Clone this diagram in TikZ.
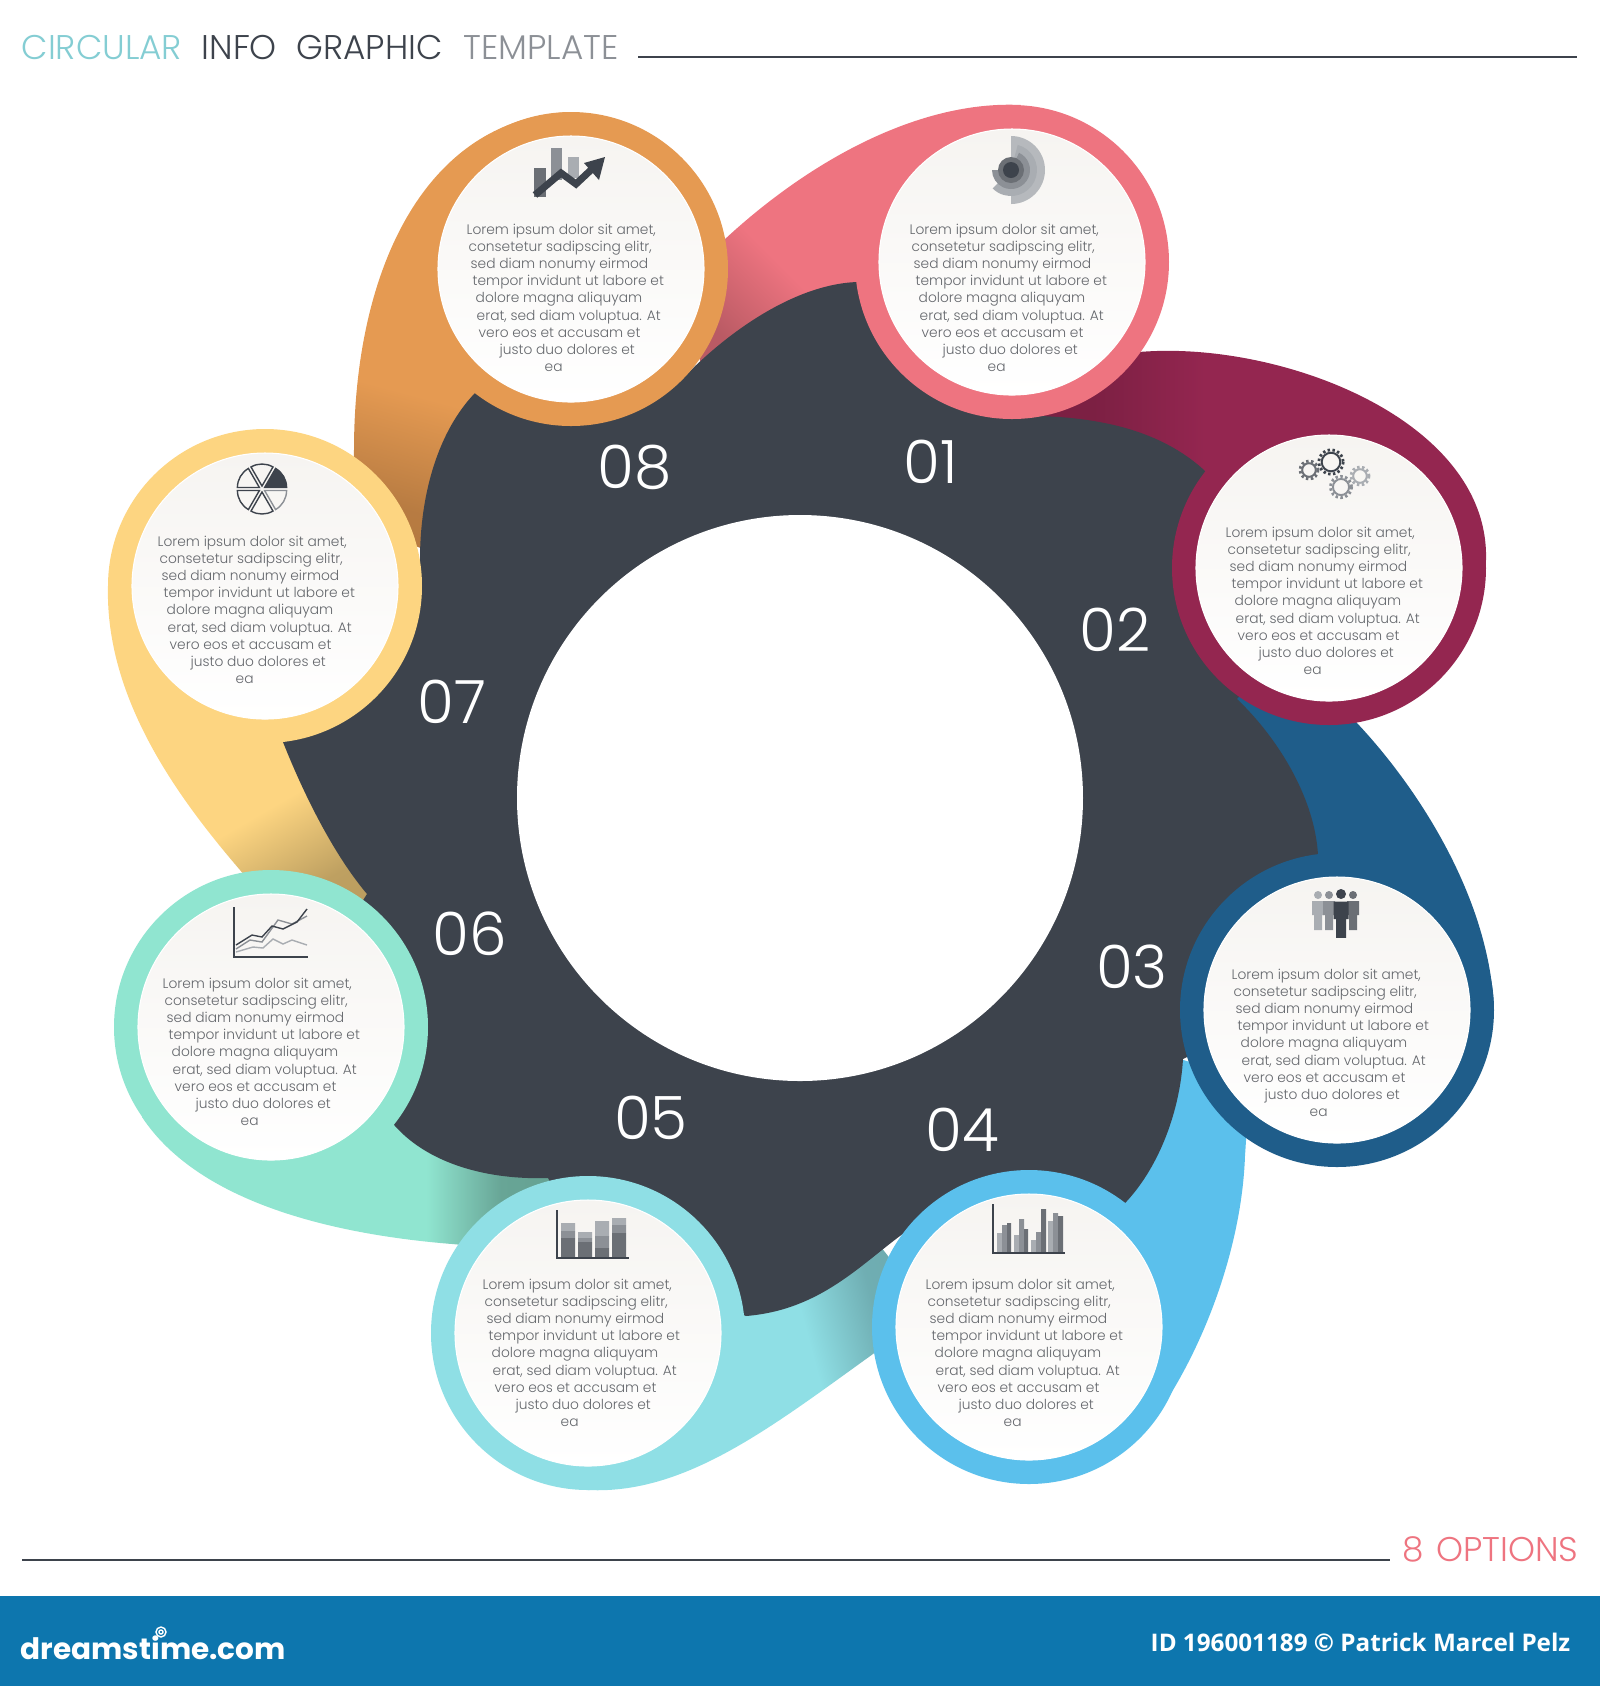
\documentclass[tikz,border=0pt]{standalone}
\usepackage{fontspec}
\setmainfont{Poppins}
\newfontfamily\lightfont{Poppins Light}
\newfontfamily\stockfont{Open Sans}
\definecolor{slate}{RGB}{61, 67, 76}
\definecolor{pinkrose}{RGB}{238, 116, 128}
\definecolor{wine}{RGB}{148, 38, 80}
\definecolor{navyblue}{RGB}{31, 93, 138}
\definecolor{skyblue}{RGB}{91, 192, 236}
\definecolor{aquablue}{RGB}{143, 223, 229}
\definecolor{mintgreen}{RGB}{144, 229, 208}
\definecolor{sandyellow}{RGB}{253, 213, 129}
\definecolor{ochre}{RGB}{229, 154, 82}
\definecolor{bandblue}{RGB}{13, 118, 174}
\definecolor{iconlight}{RGB}{169, 173, 178}
\definecolor{iconmid}{RGB}{140, 144, 150}
\definecolor{icondark}{RGB}{107, 111, 117}
\definecolor{textgray}{RGB}{100, 103, 108}
\definecolor{paper}{RGB}{246, 244, 241}
\usepackage{tikz}
\usetikzlibrary{positioning}

\pgfdeclareverticalshading{tailpink}{100bp}{color(0bp)=(pinkrose!78!black); color(28bp)=(pinkrose!78!black); color(42bp)=(pinkrose); color(100bp)=(pinkrose)}
\pgfdeclareverticalshading{tailochre}{100bp}{color(0bp)=(ochre!75!black); color(27bp)=(ochre!80!black); color(41bp)=(ochre); color(100bp)=(ochre)}
\pgfdeclareverticalshading{tailsand}{100bp}{color(0bp)=(sandyellow!70!black); color(28bp)=(sandyellow!75!black); color(42bp)=(sandyellow); color(100bp)=(sandyellow)}
\pgfdeclareverticalshading{tailmint}{100bp}{color(0bp)=(mintgreen!65!black); color(32bp)=(mintgreen!72!black); color(41bp)=(mintgreen); color(100bp)=(mintgreen)}
\pgfdeclareverticalshading{tailaqua}{100bp}{color(0bp)=(aquablue!70!black); color(31bp)=(aquablue!78!black); color(42bp)=(aquablue); color(100bp)=(aquablue)}
\pgfdeclareverticalshading{tailwine}{100bp}{color(0bp)=(wine!80!black); color(32bp)=(wine!84!black); color(44bp)=(wine); color(100bp)=(wine)}

\tikzset{
  ringnode/.style={circle, minimum size=3.14cm, inner sep=0pt},
  facenode/.style={circle, minimum size=2.66cm, inner sep=0pt, top color=paper, bottom color=white, draw=white, line width=0.3pt},
  loremnode/.style={anchor=north west, inner sep=0pt, align=left, text=textgray, font=\lightfont\fontsize{3.92}{4.9}\selectfont},
  numnode/.style={text=white, inner sep=0pt, font=\lightfont\fontsize{17}{17}\selectfont},
  headnode/.style={anchor=west, inner sep=0pt, font=\lightfont\fontsize{9.75}{10}\selectfont},
  rule/.style={slate, line width=0.6pt}
}

\newcommand{\loremtext}{Lorem ipsum dolor sit amet,\\
  \hspace*{.2mm}consetetur sadipscing elitr,\\
  \hspace*{.4mm}sed diam nonumy eirmod\\
  \hspace*{.6mm}tempor invidunt ut labore et\\
  \hspace*{.9mm}dolore magna aliquyam\\
  \hspace*{1mm}erat, sed diam voluptua. At\\
  \hspace*{1.2mm}vero eos et accusam et\\
  \hspace*{3.3mm}justo duo dolores et\\
  \hspace*{7.8mm}ea}
\newcommand{\piewedge}[4]{\draw[line width=0.4pt, #4] (262,489) ++(#3:3) -- ++(#1:22) arc[start angle=#1, end angle=#2, radius=22] -- cycle;}
\newcommand{\gearicon}[4]{
  \draw[#4, line width=0.55pt] (#1,#2) circle[radius=0.62*#3];
  \draw[#4, line width=0.8pt, dash pattern=on 0.7pt off 0.7pt] (#1,#2) circle[radius=0.82*#3];
}
\newcommand{\personicon}[4]{
  \begin{scope}[shift={(#1,#2)}, x=#3*0.1mm, y=-#3*0.1mm]
    \fill[#4] (0,0) circle[radius=4];
    \fill[#4] (-6,6) -- (6,6) -- (6,20) -- (4,20) -- (4,35) -- (-4,35) -- (-4,20) -- (-6,20) -- cycle;
  \end{scope}
}

\begin{document}
\begin{tikzpicture}[x=0.1mm, y=-0.1mm]
  \useasboundingbox (0,0) rectangle (1600,1686);

  % Tails, under everything else
  \shade[shading=tailpink, shading angle=-45] (1021,105) .. controls (920,100) and (810,160) .. (724,240) -- (680,300) -- (720,420) -- (900,300) -- cycle;
  \shade[shading=tailochre, shading angle=-15] (571,112) .. controls (425,118) and (354,270) .. (354,450) -- (352,520) -- (450,560) -- (600,300) -- cycle;
  \shade[shading=tailsand, shading angle=30] (108,586) .. controls (105,700) and (180,800) .. (240,870) -- (290,930) -- (400,900) -- (400,800) -- (300,700) -- cycle;
  \shade[shading=tailmint, shading angle=90] (142,1117) .. controls (200,1205) and (340,1235) .. (452,1244) -- (520,1250) -- (560,1180) -- (380,1080) -- cycle;
  \shade[shading=tailaqua, shading angle=105] (588,1490) .. controls (690,1495) and (780,1420) .. (887,1344) -- (930,1310) -- (860,1220) -- (700,1250) -- (600,1300) -- cycle;
  \fill[skyblue] (1170,1395) .. controls (1210,1330) and (1242,1240) .. (1245,1156) -- (1250,1080) -- (1150,1050) -- (1040,1250) -- cycle;
  \fill[navyblue] (1494,1010) .. controls (1490,900) and (1420,790) .. (1357,723) -- (1340,700) -- (1220,660) -- (1200,720) -- (1250,850) -- (1330,950) -- cycle;
  \shade[shading=tailwine, shading angle=270] (1090,345) -- (1139,352) .. controls (1280,340) and (1490,420) .. (1486,560) -- (1300,560) -- (1100,470) -- (1030,405) -- cycle;

  % Gear
  \fill[slate] (857,282) .. controls (800,284) and (735,325) .. (684,377) -- (571,300)
    -- (474,394) .. controls (440,430) and (420,490) .. (420,560) -- (300,600)
    -- (283,742) .. controls (300,785) and (330,850) .. (367,894) -- (300,1000)
    -- (395,1126) .. controls (430,1165) and (490,1180) .. (548,1178) -- (588,1250)
    -- (746,1316) .. controls (820,1310) and (860,1265) .. (904,1233) -- (1029,1300)
    -- (1127,1201) .. controls (1160,1165) and (1180,1110) .. (1183,1059) -- (1300,1000)
    -- (1318,855) .. controls (1315,800) and (1280,740) .. (1237,699) -- (1320,600)
    -- (1204,470) .. controls (1160,430) and (1100,418) .. (1040,416) -- (1012,300) -- cycle;
  \node[circle, fill=white, minimum size=5.66cm, inner sep=0pt] (hole) at (800,798) {};

  % Rings
  \node[ringnode, fill=pinkrose] (ring1) at (1012,262) {};
  \node[ringnode, fill=wine] (ring2) at (1329,568) {};
  \node[ringnode, fill=navyblue] (ring3) at (1337,1010) {};
  \node[ringnode, fill=skyblue] (ring4) at (1029,1327) {};
  \node[ringnode, fill=aquablue] (ring5) at (588,1333) {};
  \node[ringnode, fill=mintgreen] (ring6) at (271,1027) {};
  \node[ringnode, fill=sandyellow] (ring7) at (265,586) {};
  \node[ringnode, fill=ochre] (ring8) at (571,269) {};

  % Faces
  \node[facenode] (face1) at (ring1) {};
  \node[facenode] (face2) at (ring2) {};
  \node[facenode] (face3) at (ring3) {};
  \node[facenode] (face4) at (ring4) {};
  \node[facenode] (face5) at (ring5) {};
  \node[facenode] (face6) at (ring6) {};
  \node[facenode] (face7) at (ring7) {};
  \node[facenode] (face8) at (ring8) {};

  % Texts
  \node[loremnode] (text1) at (909,223) {\loremtext};
  \node[loremnode] (text2) at (1225,526) {\loremtext};
  \node[loremnode] (text3) at (1231,968) {\loremtext};
  \node[loremnode] (text4) at (925,1278) {\loremtext};
  \node[loremnode] (text5) at (482,1278) {\loremtext};
  \node[loremnode] (text6) at (162,977) {\loremtext};
  \node[loremnode] (text7) at (157,535) {\loremtext};
  \node[loremnode] (text8) at (466,223) {\loremtext};

  % Numbers
  \node[numnode] (num1) at (931,462) {01};
  \node[numnode] (num2) at (1115,630) {02};
  \node[numnode] (num3) at (1132,967) {03};
  \node[numnode] (num4) at (962,1130) {04};
  \node[numnode] (num5) at (651,1118) {05};
  \node[numnode] (num6) at (470,934) {06};
  \node[numnode] (num7) at (452,702) {07};
  \node[numnode] (num8) at (635,467) {08};

  % Icon 01, half disc
  \fill[iconlight!85!white] (1011,170) -- ++(-90:34) arc[start angle=-90, end angle=90, radius=34] -- cycle;
  \fill[iconlight] (1011,170) -- ++(-75:26) arc[start angle=-75, end angle=135, radius=26] -- cycle;
  \fill[iconmid] (1011,170) -- ++(-65:19) arc[start angle=-65, end angle=180, radius=19] -- cycle;
  \fill[icondark] (1011,170) circle[radius=13];
  \fill[slate] (1011,170) circle[radius=8];

  % Icon 02, gears
  \gearicon{1309}{470}{11}{icondark}
  \gearicon{1360}{476}{11}{iconlight}
  \gearicon{1341}{487}{13}{iconmid}
  \gearicon{1331}{462}{15}{slate}

  % Icon 03, people
  \personicon{1318}{895}{1}{iconlight}
  \personicon{1329}{895}{1}{iconmid}
  \personicon{1353}{895}{1}{icondark}
  \personicon{1341}{894}{1.25}{slate}

  % Icon 04, bars
  \fill[iconlight] (997,1233) rectangle (1002,1252) (1014,1235) rectangle (1019,1252) (1031,1240) rectangle (1036,1252) (1048,1221) rectangle (1053,1252);
  \fill[iconmid] (1002,1225) rectangle (1007,1252) (1019,1219) rectangle (1024,1252) (1036,1232) rectangle (1041,1252) (1053,1213) rectangle (1058,1252);
  \fill[icondark] (1007,1223) rectangle (1011,1252) (1024,1229) rectangle (1028,1252) (1041,1209) rectangle (1046,1252) (1058,1216) rectangle (1063,1252);
  \draw[slate, line width=0.5pt] (993,1204) -- (993,1253) -- (1065,1253);

  % Icon 05, stacked bars
  \fill[iconlight] (561,1223) rectangle (575,1231) (578,1232) rectangle (592,1238) (595,1221) rectangle (609,1236) (612,1218) rectangle (626,1225);
  \fill[iconmid] (561,1231) rectangle (575,1238) (578,1238) rectangle (592,1242) (595,1236) rectangle (609,1248) (612,1225) rectangle (626,1233);
  \fill[icondark] (561,1238) rectangle (575,1257) (578,1242) rectangle (592,1257) (595,1248) rectangle (609,1257) (612,1233) rectangle (626,1257);
  \draw[slate, line width=0.6pt] (557,1210) -- (557,1258) -- (629,1258);

  % Icon 06, line chart
  \draw[iconlight, line width=0.4pt] (236,952) -- (253,947) -- (263,948) -- (273,939) -- (283,944) -- (292,940) -- (307,945);
  \draw[iconmid, line width=0.4pt] (236,949) -- (250,940) -- (262,942) -- (278,920) -- (292,924) -- (307,916);
  \draw[slate, line width=0.4pt] (236,945) -- (252,935) -- (262,937) -- (272,926) -- (283,929) -- (297,922) -- (307,909);
  \draw[slate, line width=0.5pt] (234,907) -- (234,957) -- (308,957);

  % Icon 07, pie
  \piewedge{-60}{0}{-30}{draw=slate, fill=slate}
  \piewedge{-120}{-60}{-90}{draw=slate}
  \piewedge{-180}{-120}{-150}{draw=slate}
  \piewedge{120}{180}{150}{draw=slate}
  \piewedge{60}{120}{90}{draw=slate}
  \piewedge{0}{60}{30}{draw=iconmid}

  % Icon 08, bars and arrow
  \fill[icondark] (534,168) rectangle (546,197);
  \fill[iconmid] (551,148) rectangle (562,180);
  \fill[iconlight] (568,157) rectangle (579,178);
  \draw[slate, line width=2pt] (535,195) -- (561,173) -- (576,184) -- (592,169);
  \fill[slate] (605,157) -- (584,163) -- (599,180) -- cycle;

  % Header and footer
  \node[headnode, text=aquablue!92!black] (headA) at (21,47) {CIRCULAR};
  \node[headnode, text=slate] (headB) at (201,47) {INFO};
  \node[headnode, text=slate] (headC) at (296,47) {GRAPHIC};
  \node[headnode, text=iconmid] (headD) at (463,47) {TEMPLATE};
  \coordinate (topA) at (638,57);
  \coordinate (topB) at (1577,57);
  \draw[rule] (topA) -- (topB);
  \node[headnode, anchor=east, text=pinkrose] (options) at (1579,1549) {8\hspace{1.2mm}OPTIONS};
  \coordinate (lowA) at (22,1560);
  \coordinate (lowB) at (1390,1560);
  \draw[rule] (lowA) -- (lowB);

  % Band
  \fill[bandblue] (0,1596) rectangle (1600,1686);
  \node[anchor=west, inner sep=0pt, text=white, font=\fontsize{8.4}{9}\selectfont\bfseries] (brand) at (20,1648) {dreamstime.com};
  \draw[white, line width=0.4pt] (161,1632) circle[radius=5] (161,1632) circle[radius=2];
  \node[anchor=east, inner sep=0pt, text=white, font=\stockfont\fontsize{6.9}{7}\selectfont\bfseries] (credit) at (1571,1642) {ID 196001189 © Patrick Marcel Pelz};
\end{tikzpicture}
\end{document}
